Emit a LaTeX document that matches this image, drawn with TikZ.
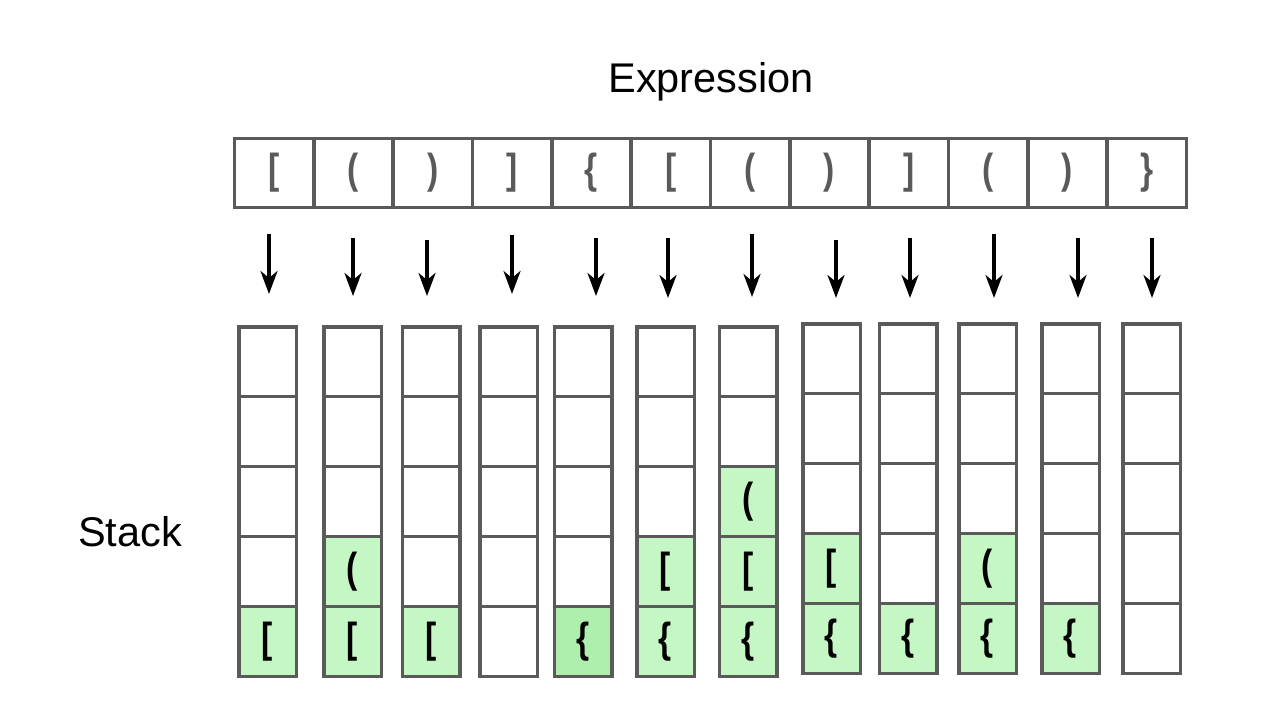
\documentclass[tikz,border=0pt]{standalone}
\usepackage{fontspec}
\setmainfont{Liberation Sans}
\newfontfamily\bracketfont[FakeStretch=0.8]{Liberation Sans Bold}
\usetikzlibrary{arrows.meta}
\definecolor{frame}{HTML}{5A5A5A}
\definecolor{pushed}{HTML}{C4F7C4}
\definecolor{pushedDark}{HTML}{AEEFAE}
\tikzset{
  base/.style={font=\fontsize{41.5}{48}\selectfont, text=black},
  label/.style={base, anchor=base},
  symbol/.style={font=\bracketfont\fontsize{42}{46}\selectfont},
  exprcell/.style={symbol, draw=frame, line width=3.5pt, inner sep=0pt, minimum width=79.33pt, minimum height=69pt, text=frame},
  stackcell/.style={symbol, draw=frame, line width=3.5pt, fill=white, inner sep=0pt, outer sep=0pt, text=black,
                    minimum width=57.5pt, minimum height=69.9pt},
  full/.style={stackcell, fill=pushed},
  fullnew/.style={stackcell, fill=pushedDark},
  arrowdn/.style={-{Stealth[length=23pt,width=17pt,inset=7pt]}, line width=3.5pt},
}

\begin{document}
\begin{tikzpicture}[x=1pt,y=-1pt]
  \useasboundingbox (0,0) rectangle (1280,720);

  \node[label] (expr) at (711,92) {Expression};
  \node[label] (stack) at (130,546) {Stack};

  % expression row
  \foreach \i/\sym in {1/{[},2/{(},3/{)},4/{]},5/{\{},6/{[},7/{(},8/{)},9/{]},10/{(},11/{)},12/{\}}}
    \node[exprcell] (e\i) at ({234.5+79.33*(\i-0.5)},173) {\sym};

  % arrows
  \foreach \i/\x/\t/\b in {1/269/234/294,2/353/238/296,3/427/240/296,4/512/235/294,5/596/238/296,6/668/238/298,
                          7/752/234/297,8/836/240/298,9/910/238/298,10/994/234/298,11/1078/238/298,12/1152/238/298} {
    \coordinate (a\i) at (\x,\t);
    \coordinate (b\i) at (\x,\b);
    \draw[arrowdn] (a\i) -- (b\i);
  }

  % stack columns, cell 1 at the bottom
  \foreach \i/\x/\b in {1/267.5/678,2/352.5/678,3/431/678,4/508.5/678,5/583/678,6/665.5/678,
                        7/748/678,8/831.5/675,9/908/675,10/987.5/675,11/1070.5/675,12/1151.5/675}
    \foreach \k in {1,...,5}
      \node[stackcell] (s\i-\k) at (\x,{\b-1.75-(\k-0.5)*69.9}) {};

  % pushed brackets
  \foreach \i/\k/\sym in {1/1/{[},2/1/{[},2/2/{(},3/1/{[},6/1/{\{},6/2/{[},7/1/{\{},7/2/{[},7/3/{(},
                          8/1/{\{},8/2/{[},9/1/{\{},10/1/{\{},10/2/{(},11/1/{\{}}
    \node[full] (p\i-\k) at (s\i-\k) {\sym};
  \node[fullnew] (p5-1) at (s5-1) {\{};
\end{tikzpicture}
\end{document}
